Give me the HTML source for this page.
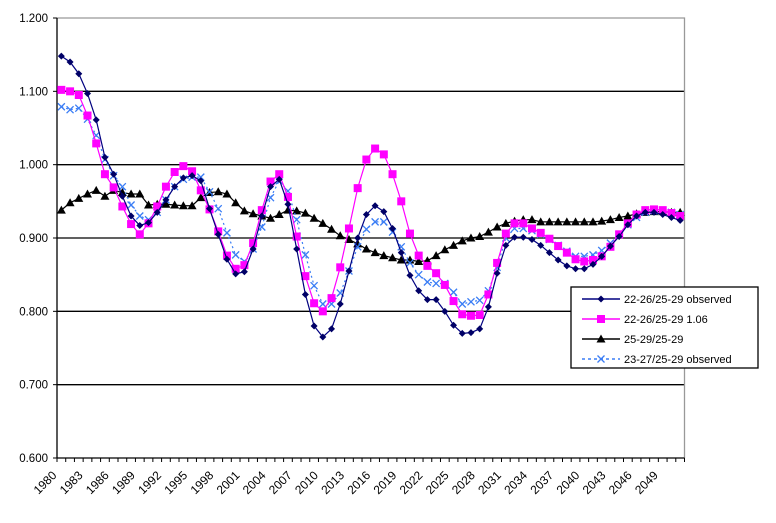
<!DOCTYPE html>
<html><head><meta charset="utf-8"><style>
body{margin:0;background:#fff;}
svg{display:block;font-family:"Liberation Sans",Arial,sans-serif;}
</style></head><body>
<svg id="chart" width="776" height="523" viewBox="0 0 776 523" xmlns="http://www.w3.org/2000/svg"></svg>
<script>
const years = Array.from({length:72},(_,i)=>1980+i);
const yTicks = [0.6,0.7,0.8,0.9,1.0,1.1,1.2];
const seriesNames = ["22-26/25-29 observed","22-26/25-29 1.06","25-29/25-29","23-27/25-29 observed"];
const obs2226 = [1.148,1.140,1.124,1.097,1.061,1.010,0.987,0.957,0.930,0.917,0.921,0.935,0.952,0.970,0.982,0.985,
0.978,0.940,0.905,0.871,0.851,0.854,0.885,0.930,0.970,0.980,
0.946,0.885,0.823,0.780,0.765,0.776,0.810,0.855,0.900,0.932,
0.944,0.936,0.913,0.880,0.849,0.828,0.816,0.816,0.800,0.781,
0.770,0.771,0.776,0.806,0.852,0.890,0.901,0.901,0.898,0.890,
0.880,0.870,0.862,0.858,0.858,0.864,0.875,0.889,0.902,0.918,
0.930,0.935,0.935,0.932,0.928,0.924];
const adj2226 = [1.102,1.100,1.095,1.067,1.029,0.987,0.969,0.943,0.919,0.905,
0.920,0.943,0.970,0.990,0.998,0.991,0.965,0.939,0.909,0.876,
0.858,0.863,0.893,0.938,0.977,0.987,0.956,0.902,0.848,0.811,
0.800,0.818,0.860,0.913,0.968,1.007,1.022,1.014,0.987,0.950,
0.906,0.876,0.862,0.852,0.836,0.814,0.796,0.794,0.795,0.823,
0.866,0.906,0.920,0.920,0.913,0.907,0.899,0.889,0.880,0.871,
0.868,0.870,0.875,0.888,0.905,0.920,0.932,0.938,0.939,0.938,0.934,0.930];
const base2529 = [0.938,0.948,0.954,0.960,0.965,0.957,0.965,0.962,0.960,0.960,
0.945,0.946,0.946,0.945,0.944,0.944,0.955,0.962,0.963,0.960,
0.948,0.937,0.933,0.930,0.927,0.932,0.938,0.937,0.934,0.927,
0.920,0.912,0.903,0.898,0.892,0.885,0.880,0.876,0.873,0.870,
0.870,0.868,0.869,0.876,0.884,0.890,0.896,0.900,0.902,0.908,
0.915,0.920,0.923,0.925,0.925,0.922,0.922,0.922,0.922,0.922,
0.922,0.922,0.923,0.925,0.928,0.930,0.933,0.935,0.936,0.936,0.935,0.935];
const obs2327 = [1.079,1.075,1.077,1.062,1.040,1.007,0.985,0.970,0.945,0.930,
0.925,0.935,0.952,0.970,0.980,0.983,0.983,0.963,0.940,0.907,
0.877,0.868,0.885,0.915,0.955,0.978,0.964,0.925,0.877,0.835,
0.810,0.810,0.825,0.855,0.888,0.912,0.922,0.922,0.908,0.888,
0.866,0.850,0.840,0.838,0.838,0.826,0.810,0.813,0.815,0.828,
0.860,0.900,0.913,0.913,0.910,0.905,0.898,0.890,0.882,0.875,
0.875,0.877,0.883,0.893,0.905,0.918,0.928,0.935,0.937,0.937,0.935,0.932];

const NS="http://www.w3.org/2000/svg";
const svg=document.getElementById('chart');
const L=57,R=684.5,T=18,B=458,yMin=0.6,yMax=1.2;
const cw=(R-L)/years.length;
const xS=i=>L+cw*(i+0.5);
const yS=v=>B-(v-yMin)/(yMax-yMin)*(B-T);
function mk(tag,attrs,parent){const e=document.createElementNS(NS,tag);for(const k in attrs)e.setAttribute(k,attrs[k]);(parent||svg).appendChild(e);return e;}

yTicks.forEach(v=>{
  const y=yS(v);
  if(v>yMin&&v<yMax){const g=mk('line',{x1:L,x2:R,y1:y,y2:y,stroke:'#000','stroke-width':1.3});
  
  }
  mk('line',{x1:L-4,x2:L,y1:y,y2:y,stroke:'#000','stroke-width':1});
  const t=mk('text',{x:L-9,y:y+4,'text-anchor':'end','font-size':11.5,fill:'#000'});
  t.textContent=v.toFixed(3);
  
  
});
const fr=mk('path',{d:`M${L},${T} H${R} V${B}`,fill:'none',stroke:'#999','stroke-width':1.3});


const ya=mk('line',{x1:L,x2:L,y1:T,y2:B,stroke:'#000','stroke-width':1.3});


const xa=mk('line',{x1:L,x2:R,y1:B,y2:B,stroke:'#000','stroke-width':1.3});


for(let i=0;i<=years.length;i++){const x=L+cw*i;mk('line',{x1:x,x2:x,y1:B,y2:B+4,stroke:'#000','stroke-width':1});}
years.forEach((yr,i)=>{
  if((yr-1980)%3!==0)return;
  const x=xS(i)-4,y=B+18;
  const t=mk('text',{x:x,y:y,'text-anchor':'end','font-size':12,fill:'#000',transform:`rotate(-45 ${x} ${y})`});
  t.textContent=yr;
  
  
});

function marker(type,x,y,color,parent){
  if(type==='diamond')mk('path',{d:`M${x},${y-3.5} L${x+3.5},${y} L${x},${y+3.5} L${x-3.5},${y}Z`,fill:color},parent);
  else if(type==='square')mk('rect',{x:x-4,y:y-4,width:8,height:8,fill:color},parent);
  else if(type==='triangle')mk('path',{d:`M${x},${y-4.5} L${x+4.5},${y+3.5} L${x-4.5},${y+3.5}Z`,fill:color},parent);
  else {mk('path',{d:`M${x-3.5},${y-3.5} L${x+3.5},${y+3.5} M${x+3.5},${y-3.5} L${x-3.5},${y+3.5}`,stroke:color,'stroke-width':1.3},parent);}
}
const defs=[
 {data:base2529,color:'#000',line:'#000',m:'triangle',dash:null,name:'series-25-29'},
 {data:obs2327,color:'#3a7df5',line:'#3a7df5',m:'cross',dash:'2,3',name:'series-23-27-observed'},
 {data:adj2226,color:'#ff00ff',line:'#ff00ff',m:'square',dash:null,name:'series-22-26-1-06'},
 {data:obs2226,color:'#000066',line:'#000080',m:'diamond',dash:null,name:'series-22-26-observed'}
];
defs.forEach(s=>{
  const g=mk('g',{});
  
  
  const pts=s.data.map((v,i)=>`${xS(i).toFixed(2)},${yS(v).toFixed(2)}`).join(' ');
  const a={points:pts,fill:'none',stroke:s.line,'stroke-width':1.2};
  if(s.dash)a['stroke-dasharray']=s.dash;
  mk('polyline',a,g);
  s.data.forEach((v,i)=>marker(s.m,xS(i),yS(v),s.color,g));
});

const lg=mk('g',{});


mk('rect',{x:571,y:287,width:187,height:81,fill:'#fff',stroke:'#000','stroke-width':1.3},lg);
const leg=[
 {n:seriesNames[0],c:'#000066',l:'#000080',m:'diamond',d:null},
 {n:seriesNames[1],c:'#ff00ff',l:'#ff00ff',m:'square',d:null},
 {n:seriesNames[2],c:'#000',l:'#000',m:'triangle',d:null},
 {n:seriesNames[3],c:'#3a7df5',l:'#3a7df5',m:'cross',d:'3,3'}
];
leg.forEach((e,i)=>{
  const y=299+i*20;
  const eg=mk('g',{},lg);
  
  
  const a={x1:582,x2:620,y1:y,y2:y,stroke:e.l,'stroke-width':1.5};
  if(e.d)a['stroke-dasharray']=e.d;
  mk('line',a,eg);
  marker(e.m,601,y,e.c,eg);
  const t=mk('text',{x:624,y:y+4,'font-size':11,fill:'#000'},eg);
  t.textContent=e.n;
});
</script>
</body></html>
